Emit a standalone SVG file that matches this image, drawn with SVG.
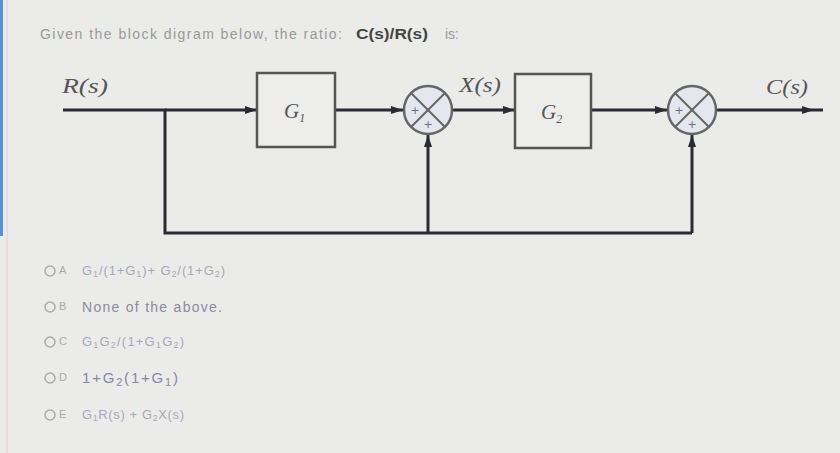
<svg xmlns="http://www.w3.org/2000/svg" width="840" height="453" viewBox="0 0 840 453">
<defs>
<marker id="arr" viewBox="0 0 12 8" refX="12" refY="4" markerWidth="12" markerHeight="8" markerUnits="userSpaceOnUse" orient="auto"><path d="M0,0 L12,4 L0,8 z" fill="#2a2a33"/></marker>
</defs>
<style>
.bg{fill:#ebebea}
.wire{fill:none;stroke:#2a2a33;stroke-width:3}
.box{fill:#ededec;stroke:#555;stroke-width:2.5}
.sum{fill:#e6e6ee;stroke:#666;stroke-width:2.5}
.x{stroke:#666;stroke-width:2}
.pl{font-family:"DejaVu Sans",sans-serif;font-size:11px;fill:#6a6a88;text-anchor:middle}
.lab{font-family:"Liberation Serif",serif;font-style:italic;font-size:21px;fill:#555}
.q{font-family:"Liberation Sans",Arial,sans-serif;font-size:14px;fill:#999}
.qb{font-family:"Liberation Sans",Arial,sans-serif;font-size:14px;fill:#444;font-weight:bold}
.opt{font-family:"Liberation Sans",Arial,sans-serif;font-size:13px;fill:#a8a8b8}
.ltr{font-family:"Liberation Sans",Arial,sans-serif;font-size:11px;fill:#aaa}
.radio{fill:none;stroke:#aaa;stroke-width:1.5}
</style>
<rect class="bg" x="0" y="0" width="840" height="453"/>
<rect x="0" y="0" width="3" height="236" fill="#5a8fd6"/>
<line x1="7" y1="0" x2="7" y2="453" stroke="#e6d8dc" stroke-width="1.5"/>

<text x="40" y="39" class="q" textLength="302" lengthAdjust="spacing">Given the block digram below,  the ratio:</text>
<text x="356" y="39" class="qb" textLength="72" lengthAdjust="spacingAndGlyphs">C(s)/R(s)</text>
<text x="445" y="39" class="q">is:</text>

<g id="connectors">
<polyline class="wire" points="63,110 165,110 165,233 692,233"/>
<line class="wire" x1="165" y1="110" x2="257" y2="110" marker-end="url(#arr)"/>
<line class="wire" x1="335" y1="110" x2="403" y2="110" marker-end="url(#arr)"/>
<line class="wire" x1="452" y1="110" x2="515" y2="110" marker-end="url(#arr)"/>
<line class="wire" x1="591" y1="110" x2="667" y2="110" marker-end="url(#arr)"/>
<line class="wire" x1="717" y1="110" x2="823" y2="110"/>
<path d="M802,106 L814,110 L802,114 z" fill="#2a2a33"/>
<line class="wire" x1="428" y1="233" x2="428" y2="135" marker-end="url(#arr)"/>
<line class="wire" x1="692" y1="233" x2="692" y2="135" marker-end="url(#arr)"/>
</g>

<g id="R"><text class="lab" x="62" y="93" textLength="46" lengthAdjust="spacingAndGlyphs">R(s)</text></g>
<g id="X"><text class="lab" x="459" y="92" textLength="42" lengthAdjust="spacingAndGlyphs">X(s)</text></g>
<g id="C"><text class="lab" x="766" y="94" textLength="42" lengthAdjust="spacingAndGlyphs">C(s)</text></g>

<g id="G1">
<rect class="box" x="257" y="73" width="78" height="74"/>
<text class="lab" x="284" y="118">G<tspan font-size="12" dy="4">1</tspan></text>
</g>
<g id="G2">
<rect class="box" x="515" y="74" width="76" height="74"/>
<text class="lab" x="541" y="119">G<tspan font-size="12" dy="4">2</tspan></text>
</g>

<g id="sum1">
<circle class="sum" cx="428" cy="110" r="24"/>
<line class="x" x1="411" y1="93" x2="445" y2="127"/>
<line class="x" x1="445" y1="93" x2="411" y2="127"/>
<text class="pl" x="415" y="114">+</text>
<text class="pl" x="428" y="128">+</text>
</g>
<g id="sum2">
<circle class="sum" cx="692" cy="110" r="24"/>
<line class="x" x1="675" y1="93" x2="709" y2="127"/>
<line class="x" x1="709" y1="93" x2="675" y2="127"/>
<text class="pl" x="679" y="114">+</text>
<text class="pl" x="692" y="128">+</text>
</g>

<g id="optA">
<circle class="radio" cx="50" cy="271" r="5"/>
<text class="ltr" x="59" y="274">A</text>
<text class="opt" x="82" y="275" textLength="143" lengthAdjust="spacing">G<tspan font-size="9" dy="2">1</tspan><tspan dy="-2">/(1+G</tspan><tspan font-size="9" dy="2">1</tspan><tspan dy="-2">)+ G</tspan><tspan font-size="9" dy="2">2</tspan><tspan dy="-2">/(1+G</tspan><tspan font-size="9" dy="2">2</tspan><tspan dy="-2">)</tspan></text>
</g>
<g id="optB">
<circle class="radio" cx="50" cy="307" r="5"/>
<text class="ltr" x="59" y="310">B</text>
<text class="opt" x="82" y="312" style="fill:#8c8c9a;font-size:14px" textLength="140" lengthAdjust="spacing">None of the above.</text>
</g>
<g id="optC">
<circle class="radio" cx="50" cy="342" r="5"/>
<text class="ltr" x="59" y="345">C</text>
<text class="opt" x="82" y="346" textLength="102" lengthAdjust="spacing">G<tspan font-size="9" dy="2">1</tspan><tspan dy="-2">G</tspan><tspan font-size="9" dy="2">2</tspan><tspan dy="-2">/(1+G</tspan><tspan font-size="9" dy="2">1</tspan><tspan dy="-2">G</tspan><tspan font-size="9" dy="2">2</tspan><tspan dy="-2">)</tspan></text>
</g>
<g id="optD">
<circle class="radio" cx="50" cy="378" r="5"/>
<text class="ltr" x="59" y="381">D</text>
<text class="opt" x="82" y="383" style="fill:#8888a8;font-size:15px" textLength="96" lengthAdjust="spacing">1+G<tspan font-size="11" dy="3">2</tspan><tspan dy="-3">(1+G</tspan><tspan font-size="11" dy="3">1</tspan><tspan dy="-3">)</tspan></text>
</g>
<g id="optE">
<circle class="radio" cx="50" cy="415" r="5"/>
<text class="ltr" x="59" y="418">E</text>
<text class="opt" x="82" y="419" textLength="102" lengthAdjust="spacing">G<tspan font-size="9" dy="2">1</tspan><tspan dy="-2">R(s) + G</tspan><tspan font-size="9" dy="2">2</tspan><tspan dy="-2">X(s)</tspan></text>
</g>
</svg>
